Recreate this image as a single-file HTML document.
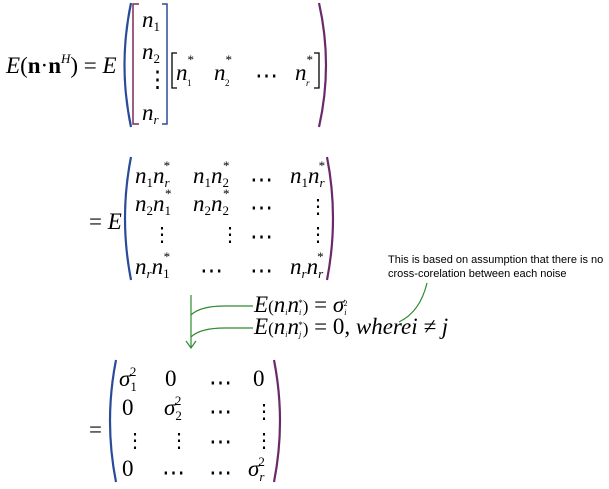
<!DOCTYPE html>
<html><head><meta charset="utf-8"><style>
html,body{margin:0;padding:0;background:#fff;width:609px;height:489px;overflow:hidden}
svg{display:block}
.m{font-family:"Liberation Serif",serif;font-style:italic;font-size:23px;fill:#000}
.r{font-style:normal}
.s{font-size:13px}
.d{font-style:normal}
.a{font-family:"Liberation Sans",sans-serif;font-size:11px;fill:#000}
</style></head><body>
<svg width="609" height="489" viewBox="0 0 609 489" xmlns="http://www.w3.org/2000/svg">
<!-- Row 1 -->
<text class="m" x="6" y="73">E<tspan class="r">(</tspan><tspan class="r" font-weight="bold">n</tspan><tspan class="r">·</tspan><tspan class="r" font-weight="bold">n</tspan><tspan class="s" dy="-10">H</tspan><tspan class="r" dy="10">) = </tspan>E</text>
<path d="M131,3 Q118,65 131,127" stroke="#2a4a9a" stroke-width="2.2" fill="none"/>
<path d="M319,3 Q333,65 319,127" stroke="#6a2a6a" stroke-width="2.2" fill="none"/>
<path d="M139,4 H133 V124 H139" stroke="#7a2a5a" stroke-width="1.5" fill="none"/>
<path d="M162,4 H167 V124 H162" stroke="#2a4a9a" stroke-width="1.5" fill="none"/>
<text class="m" x="142" y="27">n<tspan class="s r" dy="4">1</tspan></text>
<text class="m" x="142" y="59">n<tspan class="s r" dy="4">2</tspan></text>
<text class="m r" x="146" y="87">⋮</text>
<text class="m" x="142" y="120">n<tspan class="s" dy="4">r</tspan></text>
<path d="M177,53 H172 V88 H177" stroke="#000" stroke-width="1.3" fill="none"/>
<path d="M314,53 H319 V88 H314" stroke="#000" stroke-width="1.3" fill="none"/>
<text class="m" x="176" y="80">n<tspan class="s r" dy="-16">*</tspan><tspan class="r" font-size="9" dx="-7" dy="22">1</tspan></text>
<text class="m" x="214" y="80">n<tspan class="s r" dy="-16">*</tspan><tspan class="r" font-size="9" dx="-7" dy="22">2</tspan></text>
<text class="m r" x="255" y="83">⋯</text>
<text class="m" x="295" y="80">n<tspan class="s r" dy="-16">*</tspan><tspan font-size="9" dx="-7" dy="22">r</tspan></text>
<!-- Row 2 -->
<text class="m" x="89" y="229"><tspan class="r">= </tspan>E</text>
<path d="M131,157 Q119,218 131,280" stroke="#2a4a9a" stroke-width="2.2" fill="none"/>
<path d="M327,157 Q339,218 327,280" stroke="#6a2a6a" stroke-width="2.2" fill="none"/>
<g class="m">
<text x="135" y="183">n<tspan class="s r" dy="4">1</tspan><tspan dy="-4">n</tspan><tspan class="s" dy="4">r</tspan><tspan class="s r" dx="-6" dy="-17">*</tspan></text>
<text x="193" y="183">n<tspan class="s r" dy="4">1</tspan><tspan dy="-4">n</tspan><tspan class="s r" dy="4">2</tspan><tspan class="s r" dx="-6" dy="-17">*</tspan></text>
<text class="r" x="250" y="187">⋯</text>
<text x="290" y="183">n<tspan class="s r" dy="4">1</tspan><tspan dy="-4">n</tspan><tspan class="s" dy="4">r</tspan><tspan class="s r" dx="-6" dy="-17">*</tspan></text>
<text x="135" y="211">n<tspan class="s r" dy="4">2</tspan><tspan dy="-4">n</tspan><tspan class="s r" dy="4">1</tspan><tspan class="s r" dx="-6" dy="-17">*</tspan></text>
<text x="193" y="211">n<tspan class="s r" dy="4">2</tspan><tspan dy="-4">n</tspan><tspan class="s r" dy="4">2</tspan><tspan class="s r" dx="-6" dy="-17">*</tspan></text>
<text class="r" x="250" y="215">⋯</text>
<text class="r" x="220" y="241" font-size="20">⋮</text>
<text class="r" x="152" y="241" font-size="20">⋮</text>
<text class="r" x="308" y="213" font-size="20">⋮</text>
<text class="r" x="250" y="244">⋯</text>
<text class="r" x="308" y="241" font-size="20">⋮</text>
<text x="135" y="274">n<tspan class="s" dy="4">r</tspan><tspan dy="-4">n</tspan><tspan class="s r" dy="4">1</tspan><tspan class="s r" dx="-6" dy="-17">*</tspan></text>
<text class="r" x="200" y="278">⋯</text>
<text class="r" x="250" y="278">⋯</text>
<text x="290" y="274">n<tspan class="s" dy="4">r</tspan><tspan dy="-4">n</tspan><tspan class="s" dy="4">r</tspan><tspan class="s r" dx="-6" dy="-17">*</tspan></text>
</g>
<!-- arrows -->
<g stroke="#2e8b2e" stroke-width="1.2" fill="none">
<path d="M191,295 V348"/>
<path d="M186,341 L191,348 L196,341"/>
<path d="M191,315 Q200,306 225,306 H253"/>
<path d="M191,337 Q200,328 225,328 H253"/>
<path d="M399,322 Q420,312 427,283"/>
</g>
<text class="m" x="254" y="312" font-size="14">E<tspan class="r" font-size="17">(</tspan>n<tspan font-size="8" dy="3">i</tspan><tspan dy="-3">n</tspan><tspan font-size="8" dy="3">i</tspan><tspan font-size="9" class="r" dx="-3" dy="-9">*</tspan><tspan class="r" font-size="17" dy="6">)</tspan><tspan class="r"> = </tspan>σ<tspan font-size="8" dy="3">i</tspan><tspan class="r" font-size="8" dx="-3" dy="-9">2</tspan></text>
<text class="m" x="254" y="334" font-size="14">E<tspan class="r" font-size="17">(</tspan>n<tspan font-size="8" dy="3">i</tspan><tspan dy="-3">n</tspan><tspan font-size="8" dy="3">j</tspan><tspan font-size="9" class="r" dx="-3" dy="-9">*</tspan><tspan class="r" font-size="17" dy="6">)</tspan><tspan class="r"> = 0, </tspan>wherei ≠ j</text>
<text class="a" x="388" y="263">This is based on assumption that there is no</text>
<text class="a" x="388" y="277">cross-corelation between each noise</text>
<!-- Row 3 -->
<text class="m r" x="89" y="437">=</text>
<path d="M116,360 Q104,421 116,482" stroke="#2a4a9a" stroke-width="2.2" fill="none"/>
<path d="M274,360 Q286,421 274,482" stroke="#6a2a6a" stroke-width="2.2" fill="none"/>
<g class="m">
<text x="119" y="386">σ<tspan class="s r" dy="5">1</tspan><tspan class="s r" dx="-7" dy="-15">2</tspan></text>
<text class="r" x="165" y="386">0</text>
<text class="r" x="209" y="390">⋯</text>
<text class="r" x="253" y="386">0</text>
<text class="r" x="122" y="415">0</text>
<text x="164" y="415">σ<tspan class="s r" dy="5">2</tspan><tspan class="s r" dx="-7" dy="-15">2</tspan></text>
<text class="r" x="209" y="419">⋯</text>
<text class="r" x="254" y="418" font-size="20">⋮</text>
<text class="r" x="125" y="447" font-size="20">⋮</text>
<text class="r" x="169" y="447" font-size="20">⋮</text>
<text class="r" x="209" y="449">⋯</text>
<text class="r" x="254" y="447" font-size="20">⋮</text>
<text class="r" x="122" y="476">0</text>
<text class="r" x="162" y="480">⋯</text>
<text class="r" x="209" y="480">⋯</text>
<text x="248" y="476">σ<tspan class="s" dy="5">r</tspan><tspan class="s r" dx="-6" dy="-15">2</tspan></text>
</g>
</svg>
</body></html>
